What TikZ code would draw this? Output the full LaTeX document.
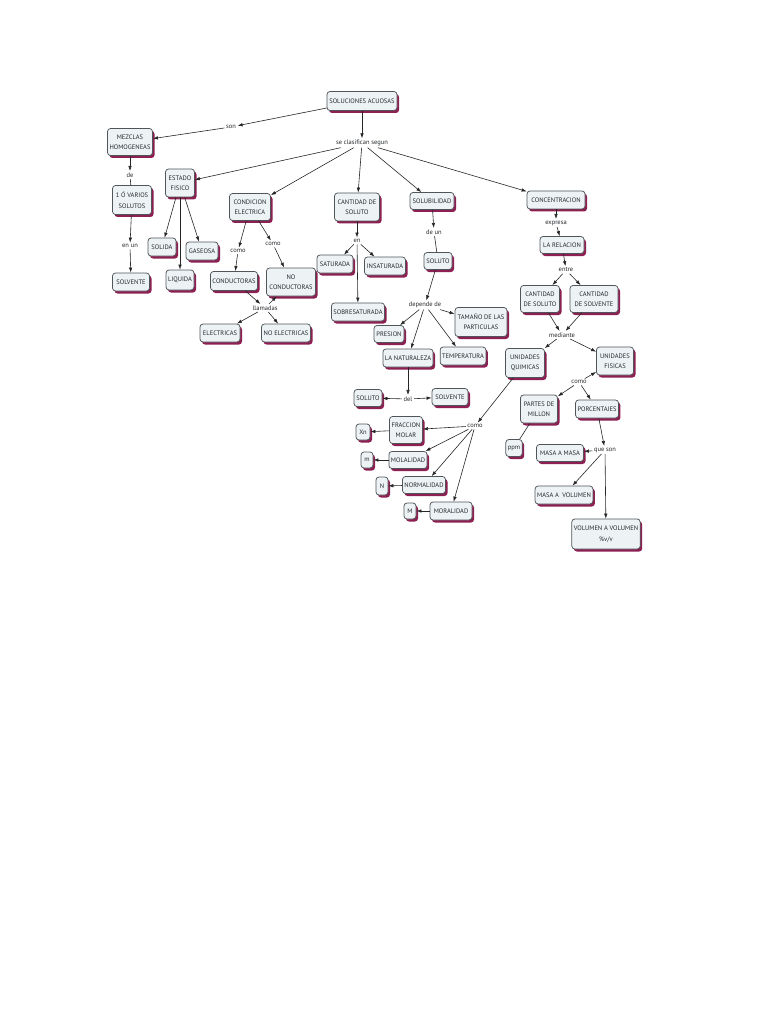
\documentclass[tikz,border=0pt]{standalone}
\usepackage{fontspec}
\setmainfont{PT Sans}
\usetikzlibrary{arrows.meta,shadows}
\definecolor{boxfill}{HTML}{EDF2F5}
\definecolor{boxdraw}{HTML}{50555A}
\definecolor{shad}{HTML}{8E1F52}
\definecolor{txt}{HTML}{25292D}
\begin{document}
\begin{tikzpicture}[x=1pt,y=-1pt,
 bx/.style={draw=boxdraw, line width=0.75pt, fill=boxfill, rounded corners=3pt, align=center,
   font=\fontsize{6.5}{10.5}\selectfont, text=txt, inner xsep=2pt, inner ysep=2pt,
   drop shadow={shadow xshift=2pt, shadow yshift=-2.5pt, fill=shad, opacity=1}},
 lk/.style={font=\fontsize{6.5}{8}\selectfont, text=txt, inner sep=1.5pt},
 ar/.style={-{Latex[length=5pt,width=3.5pt]}, line width=0.6pt, draw=black!85},
 ln/.style={line width=0.6pt, draw=black!85}]
\useasboundingbox[fill=white] (0,0) rectangle (768,1024);

% concepts
\node[bx, minimum width=70pt, minimum height=19pt] (sa) at (362,101) {SOLUCIONES ACUOSAS};
\node[bx, minimum width=45pt, minimum height=27pt] (mez) at (130,142) {MEZCLAS\\HOMOGENEAS};
\node[bx, minimum width=39pt, minimum height=29pt] (var) at (132,200) {1 Ó VARIOS\\SOLUTOS};
\node[bx, minimum width=37pt, minimum height=18pt] (solv1) at (131,282) {SOLVENTE};
\node[bx, minimum width=29pt, minimum height=28pt] (ef) at (180,183) {ESTADO\\FISICO};
\node[bx, minimum width=28pt, minimum height=18pt] (sol) at (162,247) {SOLIDA};
\node[bx, minimum width=32pt, minimum height=18pt] (gas) at (202,251) {GASEOSA};
\node[bx, minimum width=28pt, minimum height=20pt] (liq) at (180,280) {LIQUIDA};
\node[bx, minimum width=41pt, minimum height=27pt] (ce) at (250,207) {CONDICION\\ELECTRICA};
\node[bx, minimum width=47pt, minimum height=19pt] (cond) at (234,281) {CONDUCTORAS};
\node[bx, minimum width=49pt, minimum height=28pt] (ncond) at (291,282) {NO\\CONDUCTORAS};
\node[bx, minimum width=40pt, minimum height=18pt] (elec) at (220,333) {ELECTRICAS};
\node[bx, minimum width=49pt, minimum height=18pt] (nelec) at (286,333) {NO ELECTRICAS};
\node[bx, minimum width=45pt, minimum height=28pt] (cs1) at (357,207) {CANTIDAD DE\\SOLUTO};
\node[bx, minimum width=36pt, minimum height=18pt] (sat) at (335,264) {SATURADA};
\node[bx, minimum width=41pt, minimum height=18pt] (insat) at (385,266) {INSATURADA};
\node[bx, minimum width=53pt, minimum height=18pt] (sobre) at (358,312) {SOBRESATURADA};
\node[bx, minimum width=44pt, minimum height=17pt] (solub) at (432,201) {SOLUBILIDAD};
\node[bx, minimum width=28pt, minimum height=17pt] (soluto) at (438,261) {SOLUTO};
\node[bx, minimum width=52pt, minimum height=29pt] (tam) at (481,322) {TAMAÑO DE LAS\\PARTICULAS};
\node[bx, minimum width=30pt, minimum height=17pt] (pres) at (389,334) {PRESION};
\node[bx, minimum width=48pt, minimum height=18pt] (nat) at (408,358) {LA NATURALEZA};
\node[bx, minimum width=45pt, minimum height=18pt] (temp) at (463,356) {TEMPERATURA};
\node[bx, minimum width=28pt, minimum height=17pt] (soluto2) at (368,398) {SOLUTO};
\node[bx, minimum width=36pt, minimum height=17pt] (solv2) at (450,397) {SOLVENTE};
\node[bx, minimum width=33pt, minimum height=27pt] (fm) at (406,430) {FRACCION\\MOLAR};
\node[bx, minimum width=14pt, minimum height=16pt] (xn) at (363,432) {Xn};
\node[bx, minimum width=38pt, minimum height=17pt] (mol) at (408,460) {MOLALIDAD};
\node[bx, minimum width=12pt, minimum height=16pt] (mm) at (367,460) {m};
\node[bx, minimum width=43pt, minimum height=17pt] (norm) at (424,485) {NORMALIDAD};
\node[bx, minimum width=12pt, minimum height=18pt] (nn) at (382,486) {N};
\node[bx, minimum width=42pt, minimum height=18pt] (mor) at (451,511) {MORALIDAD};
\node[bx, minimum width=12pt, minimum height=16pt] (bigm) at (410,511) {M};
\node[bx, minimum width=58pt, minimum height=18pt] (conc) at (556,200) {CONCENTRACION};
\node[bx, minimum width=44pt, minimum height=17pt] (rel) at (562,245) {LA RELACION};
\node[bx, minimum width=39pt, minimum height=27pt] (cs2) at (540,299) {CANTIDAD\\DE SOLUTO};
\node[bx, minimum width=48pt, minimum height=27pt] (csv) at (594,299) {CANTIDAD\\DE SOLVENTE};
\node[bx, minimum width=39pt, minimum height=29pt] (uq) at (525,363) {UNIDADES\\QUIMICAS};
\node[bx, minimum width=37pt, minimum height=28pt] (uf) at (615,361) {UNIDADES\\FISICAS};
\node[bx, minimum width=37pt, minimum height=28pt] (pm) at (539,409) {PARTES DE\\MILLON};
\node[bx, minimum width=42pt, minimum height=18pt] (porc) at (597,409) {PORCENTAJES};
\node[bx, minimum width=13pt, minimum height=17pt] (ppm) at (514,448) {ppm};
\node[bx, minimum width=47pt, minimum height=17pt] (mam) at (560,453) {MASA A MASA};
\node[bx, minimum width=57pt, minimum height=18pt] (mav) at (564,495) {MASA A \ VOLUMEN};
\node[bx, minimum width=66pt, minimum height=30pt] (vav) at (606,534) {VOLUMEN A VOLUMEN\\\%v/v};

% linking phrases
\node[lk] (son) at (231,127) {son};
\node[lk] (seg) at (362,143) {se clasifican segun};
\node[lk] (de) at (130,175) {de};
\node[lk] (enun) at (130,246) {en un};
\node[lk] (como1) at (238,251) {como};
\node[lk] (como2) at (273,244) {como};
\node[lk] (llam) at (265,308) {llamadas};
\node[lk] (en) at (357,241) {en};
\node[lk] (deun) at (434,232) {de un};
\node[lk] (dep) at (425,305) {depende de};
\node[lk] (del) at (408,399) {del};
\node[lk] (como3) at (475,426) {como};
\node[lk] (expr) at (556,223) {expresa};
\node[lk] (entre) at (566,270) {entre};
\node[lk] (med) at (562,335) {mediante};
\node[lk] (como4) at (579,382) {como};
\node[lk] (queson) at (605,450) {que son};

% connectors
\draw[ar] (sa) -- (son);
\draw[ar] (son) -- (mez);
\draw[ar] (sa) -- (seg);
\draw[ar] (seg) -- (ef);
\draw[ar] (seg) -- (ce);
\draw[ar] (seg) -- (cs1);
\draw[ar] (seg) -- (solub);
\draw[ar] (seg) -- (conc);
\draw[ar] (mez) -- (de);
\draw[ln] (de) -- (var);
\draw[ar] (var) -- (enun);
\draw[ar] (enun) -- (solv1);
\draw[ar] (ef) -- (sol);
\draw[ar] (ef) -- (liq);
\draw[ar] (ef) -- (gas);
\draw[ar] (ce) -- (como1);
\draw[ar] (como1) -- (cond);
\draw[ar] (ce) -- (como2);
\draw[ar] (como2) -- (ncond);
\draw[ar] (cond) -- (llam);
\draw[ar] (llam) -- (ncond);
\draw[ar] (llam) -- (elec);
\draw[ar] (llam) -- (nelec);
\draw[ar] (cs1) -- (en);
\draw[ar] (en) -- (sat);
\draw[ar] (en) -- (insat);
\draw[ar] (en) -- (sobre);
\draw[ar] (solub) -- (deun);
\draw[ln] (deun) -- (soluto);
\draw[ar] (soluto) -- (dep);
\draw[ar] (dep) -- (tam);
\draw[ar] (dep) -- (pres);
\draw[ar] (dep) -- (nat);
\draw[ar] (dep) -- (temp);
\draw[ar] (nat) -- (del);
\draw[ar] (del) -- (soluto2);
\draw[ar] (del) -- (solv2);
\draw[ar] (uq) -- (como3);
\draw[ar] (como3) -- (fm);
\draw[ar] (como3) -- (mol);
\draw[ar] (como3) -- (norm);
\draw[ar] (como3) -- (mor);
\draw[ar] (fm) -- (xn);
\draw[ar] (mol) -- (mm);
\draw[ar] (norm) -- (nn);
\draw[ar] (mor) -- (bigm);
\draw[ar] (conc) -- (expr);
\draw[ar] (expr) -- (rel);
\draw[ar] (rel) -- (entre);
\draw[ar] (entre) -- (cs2);
\draw[ar] (entre) -- (csv);
\draw[ar] (cs2) -- (med);
\draw[ar] (csv) -- (med);
\draw[ar] (med) -- (uq);
\draw[ar] (med) -- (uf);
\draw[ar] (como4) -- (uf);
\draw[ar] (como4) -- (pm);
\draw[ar] (como4) -- (porc);
\draw[ln] (pm) -- (ppm);
\draw[ar] (porc) -- (queson);
\draw[ar] (queson) -- (mam);
\draw[ar] (queson) -- (mav);
\draw[ar] (queson) -- (vav);
\end{tikzpicture}
\end{document}
